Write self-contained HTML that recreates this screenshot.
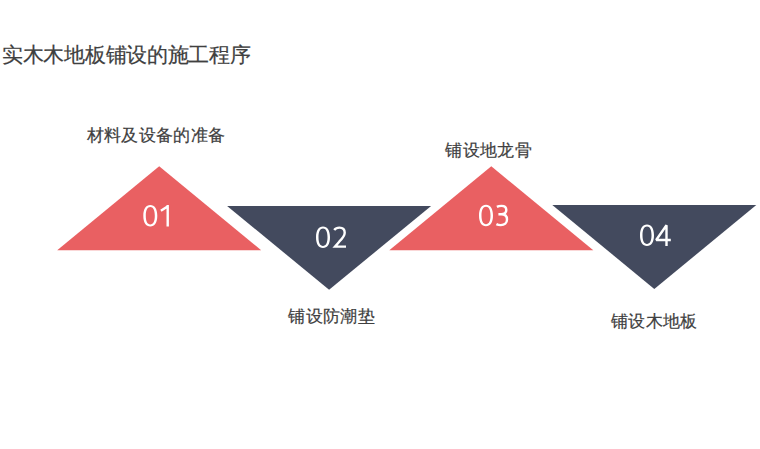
<!DOCTYPE html>
<html><head><meta charset="utf-8">
<style>
html,body{margin:0;padding:0;background:#fff;}
body{width:760px;height:449px;position:relative;overflow:hidden;font-family:"Liberation Sans",sans-serif;}
svg{position:absolute;left:0;top:0;}
.t{position:absolute;white-space:nowrap;line-height:1;color:#404040;-webkit-text-stroke:0.2px #404040;}
</style></head><body>
<svg width="760" height="449" viewBox="0 0 760 449">
<polygon points="159.2,166.2 261.2,250.2 57.2,250.2" fill="#e96062"/>
<polygon points="227.1,205.9 431.1,205.9 329.1,289.8" fill="#434a5e"/>
<polygon points="491.3,166.3 593.3,250.2 389.3,250.2" fill="#e96062"/>
<polygon points="552.3,205.1 756.3,205.1 654.3,288.9" fill="#434a5e"/>
<defs>
<path id="d0" fill="#fff" stroke="none" fill-rule="evenodd" d="M7,0 C11.3,0 14,3.9 14,10.8 C14,17.7 11.3,21.6 7,21.6 C2.7,21.6 0,17.7 0,10.8 C0,3.9 2.7,0 7,0 Z M7,2.1 C9.9,2.1 11.5,5.3 11.5,10.8 C11.5,16.3 9.9,19.5 7,19.5 C4.1,19.5 2.5,16.3 2.5,10.8 C2.5,5.3 4.1,2.1 7,2.1 Z"/>
</defs>
<g fill="none" stroke="#fff" stroke-width="2.4">
 <g transform="translate(143.3,205)">
  <use href="#d0"/>
  <path d="M24.4,0 V21.6 M17.6,5.8 L24.6,1.2"/>
 </g>
 <g transform="translate(316,226.4)">
  <use href="#d0"/>
  <path d="M18.2,3.6 C19.5,1.9 21.2,1.2 23.4,1.2 C26.8,1.2 28.7,3.3 28.7,6.4 C28.7,9.6 26.8,11.8 23.2,15.3 L19.0,20.2 L30,20.2"/>
 </g>
 <g transform="translate(479,204.7)">
  <use href="#d0"/>
  <path d="M17.9,2.2 C19.2,1.5 20.8,1.2 22.5,1.2 C25.5,1.2 27.3,2.9 27.3,5.4 C27.3,8.1 25.3,9.6 22.3,9.6 L19.4,9.6 M22.3,9.6 C26,9.6 28,11.6 28,14.8 C28,18.3 25.5,20.4 21.8,20.4 C20.2,20.4 18.6,20.1 17.4,19.4"/>
 </g>
 <g transform="translate(640,224.5)">
  <use href="#d0"/>
  <path d="M26.5,21.6 V0.8 L16.2,15.5 H30.8" stroke-linejoin="bevel"/>
 </g>
</g>
</svg>
<div class="t" id="title" style="left:2px;top:43.5px;font-size:21px;letter-spacing:-0.3px">实木木地板铺设的施工程序</div>
<div class="t" id="l1" style="left:86.5px;top:127px;font-size:17px;letter-spacing:0.4px">材料及设备的准备</div>
<div class="t" id="l3" style="left:445.3px;top:142px;font-size:17px;letter-spacing:0.4px">铺设地龙骨</div>
<div class="t" id="l2" style="left:288.2px;top:307.5px;font-size:17px;letter-spacing:0.4px">铺设防潮垫</div>
<div class="t" id="l4" style="left:610.8px;top:312.8px;font-size:17px;letter-spacing:0.4px">铺设木地板</div>
</body></html>
